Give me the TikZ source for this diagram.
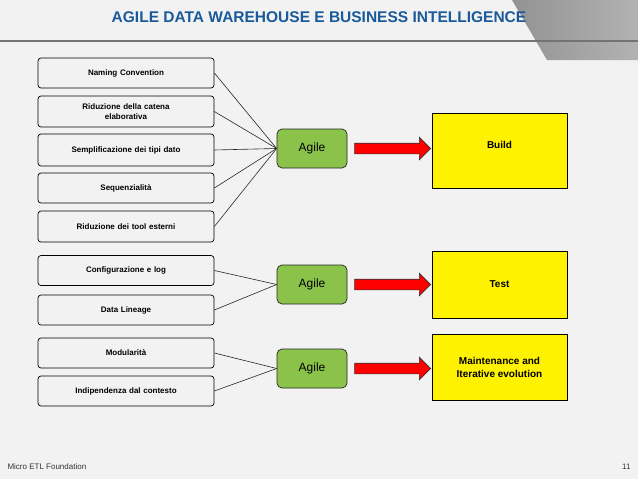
\documentclass[tikz,border=0pt]{standalone}
\usepackage{fontspec}
\setmainfont{Liberation Sans}
\usetikzlibrary{shapes.arrows}
\definecolor{bg}{HTML}{F2F2F2}
\definecolor{agreen}{HTML}{8BC34A}
\definecolor{titleblue}{HTML}{1A5A9A}
\tikzset{
 lbox/.style={draw=black,line width=0.7pt,fill=bg,rounded corners=3pt,minimum width=176pt,minimum height=30pt,align=center,font=\fontsize{8}{9.5}\selectfont\bfseries,text width=150pt},
 agbox/.style={draw=black!85,line width=0.7pt,fill=agreen,rounded corners=5pt,minimum width=70pt,minimum height=39pt,font=\fontsize{12}{14}\selectfont},
 ybox/.style={draw=black,line width=0.7pt,fill=yellow,minimum width=135pt,minimum height=70pt,align=center,font=\fontsize{10}{13}\selectfont\bfseries},
 conn/.style={draw=black!85,line width=0.6pt},
 rarrow/.style={single arrow,draw=black!80,line width=0.6pt,fill=red,minimum height=76pt,minimum width=22pt,single arrow head extend=6pt,inner sep=5pt,shape border uses incircle=false}
}
\begin{document}
\begin{tikzpicture}[x=1pt,y=-1pt]
\useasboundingbox (0,0) rectangle (638,479);
\fill[bg] (0,0) rectangle (638,479);
\shade[left color=gray!85,right color=gray!60] (512,0) -- (638,0) -- (638,60) -- (547,60) -- cycle;
\draw[gray!90!black,line width=1.2pt] (0,41) -- (638,41);
\node[font=\fontsize{15.5}{17}\selectfont\bfseries,text=titleblue] (title) at (319,17) {AGILE DATA WAREHOUSE E BUSINESS INTELLIGENCE};
\node[lbox] (b1) at (126,73) {Naming Convention};
\node[lbox,minimum height=31pt] (b2) at (126,111.5) {Riduzione della catena\\elaborativa};
\node[lbox,minimum height=32pt] (b3) at (126,150) {Semplificazione dei tipi dato};
\node[lbox] (b4) at (126,188) {Sequenzialità};
\node[lbox,minimum height=31pt] (b5) at (126,226.5) {Riduzione dei tool esterni};
\node[lbox] (b6) at (126,270.5) {Configurazione e log};
\node[lbox] (b7) at (126,310) {Data Lineage};
\node[lbox] (b8) at (126,353) {Modularità};
\node[lbox] (b9) at (126,391) {Indipendenza dal contesto};
\node[agbox] (a1) at (312,148.5) {Agile};
\node[agbox] (a2) at (312,284.5) {Agile};
\node[agbox] (a3) at (312,368.5) {Agile};
\foreach \b in {b1,b2,b3,b4,b5} \draw[conn] (\b.east) -- (a1.west);
\foreach \b in {b6,b7} \draw[conn] (\b.east) -- (a2.west);
\foreach \b in {b8,b9} \draw[conn] (\b.east) -- (a3.west);
\node[ybox,minimum height=75pt] (y1) at (499.5,150.5) {};
\node[font=\fontsize{10}{13}\selectfont\bfseries] (y1t) at (499.5,145) {Build};
\node[ybox,minimum height=67pt] (y2) at (499.5,284.5) {Test};
\node[ybox,minimum height=66pt] (y3) at (499.5,367) {Maintenance and\\Iterative evolution};
\node[rarrow] (r1) at (390,148.5) {};
\node[rarrow] (r2) at (390,284.5) {};
\node[rarrow] (r3) at (390,368.5) {};
\node[font=\fontsize{8}{9}\selectfont,anchor=west,text=black!80] (f1) at (4,467) {Micro ETL Foundation};
\node[font=\fontsize{8}{9}\selectfont,anchor=east,text=black!80] (f2) at (634,467) {11};
\end{tikzpicture}
\end{document}
